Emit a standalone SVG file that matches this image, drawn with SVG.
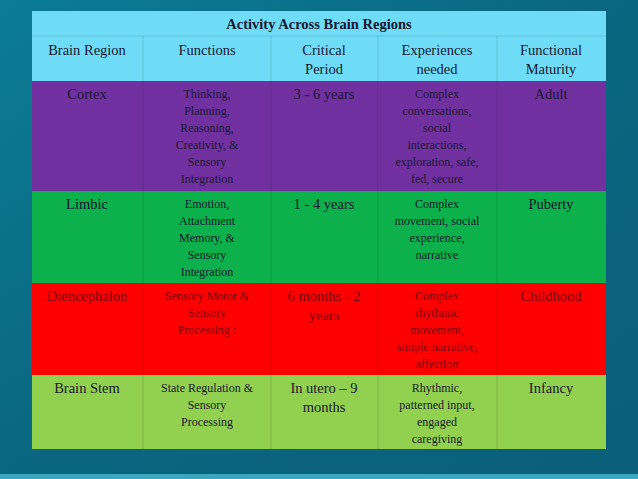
<svg xmlns="http://www.w3.org/2000/svg" width="638" height="479" viewBox="0 0 638 479">
<defs>
<linearGradient id="bg" x1="0" y1="0" x2="1" y2="1">
<stop offset="0" stop-color="#0b7c96"/><stop offset="0.5" stop-color="#0a6680"/><stop offset="1" stop-color="#0a5f7a"/>
</linearGradient>
<style>
text{font-family:"Liberation Serif","DejaVu Serif",serif;fill:#1a1830;text-anchor:middle}
.m{font-size:14.5px}.s{font-size:12px}.b{font-weight:bold}
.red text{fill:#7a0010}
line{stroke-width:1}
</style>
</defs>
<rect width="638" height="479" fill="url(#bg)"/>
<rect x="0" y="474" width="638" height="5" fill="#3aa6c0"/>
<g id="title"><rect x="32" y="11" width="574" height="25" fill="#6fdcf7"/><text class="m b" x="319" y="29">Activity Across Brain Regions</text></g>
<g id="header"><rect x="32" y="36" width="574" height="45" fill="#6fdcf7"/>
<text class="m" x="87" y="55">Brain Region</text><text class="m" x="207" y="55">Functions</text>
<text class="m" x="324" y="55">Critical</text><text class="m" x="324" y="74">Period</text>
<text class="m" x="437" y="55">Experiences</text><text class="m" x="437" y="74">needed</text>
<text class="m" x="551" y="55">Functional</text><text class="m" x="551" y="74">Maturity</text></g>
<g id="cortex"><rect x="32" y="81" width="574" height="110" fill="#7030a0"/>
<text class="m" x="87" y="99">Cortex</text>
<text class="s"><tspan x="207" y="98">Thinking,</tspan><tspan x="207" y="115">Planning,</tspan><tspan x="207" y="132">Reasoning,</tspan><tspan x="207" y="149">Creativity, &amp;</tspan><tspan x="207" y="166">Sensory</tspan><tspan x="207" y="183">Integration</tspan></text>
<text class="m" x="324" y="99">3 - 6 years</text>
<text class="s"><tspan x="437" y="98">Complex</tspan><tspan x="437" y="115">conversations,</tspan><tspan x="437" y="132">social</tspan><tspan x="437" y="149">interactions,</tspan><tspan x="437" y="166">exploration, safe,</tspan><tspan x="437" y="183">fed, secure</tspan></text>
<text class="m" x="551" y="99">Adult</text></g>
<g id="limbic"><rect x="32" y="191" width="574" height="92" fill="#0db14b"/>
<text class="m" x="87" y="209">Limbic</text>
<text class="s"><tspan x="207" y="208">Emotion,</tspan><tspan x="207" y="225">Attachment</tspan><tspan x="207" y="242">Memory, &amp;</tspan><tspan x="207" y="259">Sensory</tspan><tspan x="207" y="276">Integration</tspan></text>
<text class="m" x="324" y="209">1 - 4 years</text>
<text class="s"><tspan x="437" y="208">Complex</tspan><tspan x="437" y="225">movement, social</tspan><tspan x="437" y="242">experience,</tspan><tspan x="437" y="259">narrative</tspan></text>
<text class="m" x="551" y="209">Puberty</text></g>
<g id="diencephalon"><rect x="32" y="283" width="574" height="92" fill="#fe0000"/>
<g class="red"><text class="m" x="87" y="301">Diencephalon</text>
<text class="s"><tspan x="207" y="300">Sensory Motor &amp;</tspan><tspan x="207" y="317">Sensory</tspan><tspan x="207" y="334">Processing :</tspan></text>
<text class="m"><tspan x="324" y="301">6 months - 2</tspan><tspan x="324" y="320">years</tspan></text>
<text class="s"><tspan x="437" y="300">Complex</tspan><tspan x="437" y="317">rhythmic</tspan><tspan x="437" y="334">movement,</tspan><tspan x="437" y="351">simple narrative,</tspan><tspan x="437" y="368">affection</tspan></text>
<text class="m" x="551" y="301">Childhood</text></g></g>
<g id="brainstem"><rect x="32" y="375" width="574" height="74" fill="#92d050"/>
<text class="m" x="87" y="393">Brain Stem</text>
<text class="s"><tspan x="207" y="392">State Regulation &amp;</tspan><tspan x="207" y="409">Sensory</tspan><tspan x="207" y="426">Processing</tspan></text>
<text class="m"><tspan x="324" y="393">In utero – 9</tspan><tspan x="324" y="412">months</tspan></text>
<text class="s"><tspan x="437" y="392">Rhythmic,</tspan><tspan x="437" y="409">patterned input,</tspan><tspan x="437" y="426">engaged</tspan><tspan x="437" y="443">caregiving</tspan></text>
<text class="m" x="551" y="393">Infancy</text></g>
<g id="grid" stroke="#000" stroke-opacity="0.12">
<line x1="143" y1="36" x2="143" y2="449"/><line x1="271" y1="36" x2="271" y2="449"/>
<line x1="378" y1="36" x2="378" y2="449"/><line x1="497" y1="36" x2="497" y2="449"/>
<line x1="32" y1="36" x2="606" y2="36"/>
</g>
</svg>
